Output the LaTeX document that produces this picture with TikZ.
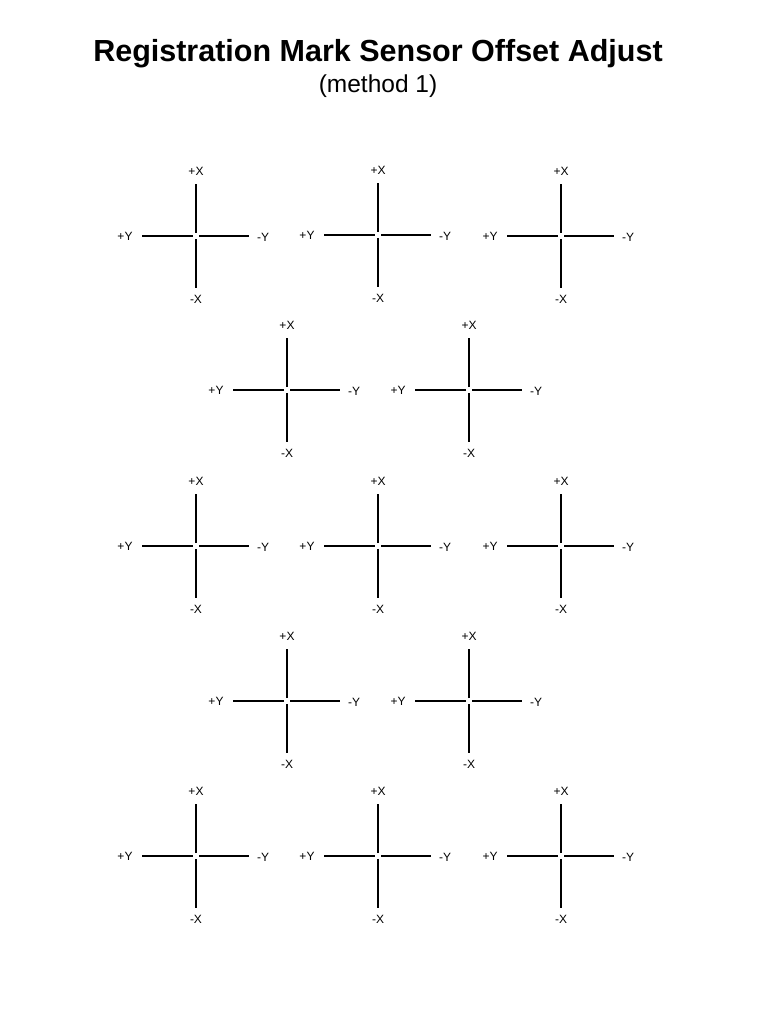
\documentclass[tikz,border=0pt]{standalone}
\usepackage{fontspec}
\setmainfont{Liberation Sans}
\newcommand\regmark[3]{%
  \coordinate (#1) at (#2,#3);
  \draw[arm] (#2,#3-3) -- (#2,#3-52);
  \draw[arm] (#2,#3+3) -- (#2,#3+52);
  \draw[arm] (#2-3,#3) -- (#2-54,#3);
  \draw[arm] (#2+3,#3) -- (#2+53,#3);
  \node[lbl] (#1px) at (#2,#3-65) {+X};
  \node[lbl] (#1mx) at (#2,#3+63) {-X};
  \node[lbl] (#1py) at (#2-71,#3) {+Y};
  \node[lbl] (#1my) at (#2+67,#3+1) {-Y};
}
\begin{document}
\begin{tikzpicture}[x=1pt,y=-1pt,
  arm/.style={line width=2.8pt},
  lbl/.style={font=\fontsize{12}{14}\selectfont, inner sep=0pt}]
\useasboundingbox (0,0) rectangle (768,1024);
\node[font=\bfseries\fontsize{30.5}{34}\selectfont, inner sep=0pt] (title) at (378,54) {Registration Mark Sensor Offset Adjust};
\node[font=\fontsize{24.5}{28}\selectfont, inner sep=0pt] (sub) at (378,86) {(method 1)};
\regmark{a1}{196}{236}
\regmark{a2}{378}{235}
\regmark{a3}{561}{236}
\regmark{b1}{287}{390}
\regmark{b2}{469}{390}
\regmark{c1}{196}{546}
\regmark{c2}{378}{546}
\regmark{c3}{561}{546}
\regmark{d1}{287}{701}
\regmark{d2}{469}{701}
\regmark{e1}{196}{856}
\regmark{e2}{378}{856}
\regmark{e3}{561}{856}
\end{tikzpicture}
\end{document}
